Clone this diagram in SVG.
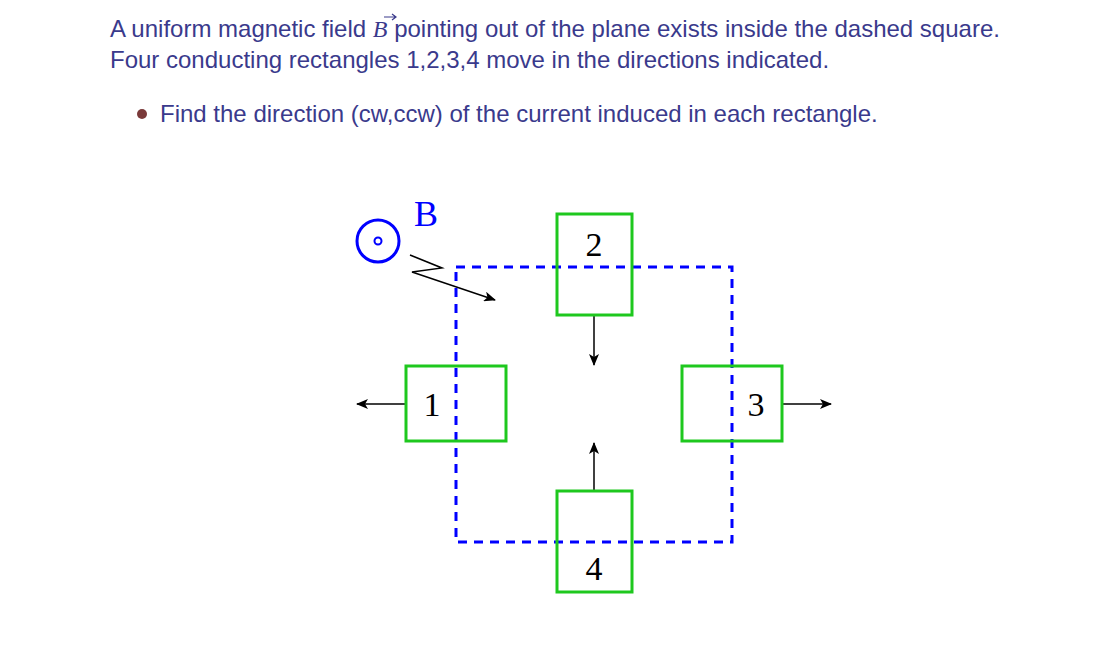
<svg xmlns="http://www.w3.org/2000/svg" width="1113" height="647" viewBox="0 0 1113 647">
<defs><marker id="ah" viewBox="0 0 12 10" refX="11" refY="5" markerWidth="12" markerHeight="10" markerUnits="userSpaceOnUse" orient="auto"><path d="M0,0 L12,5 L0,10 L3,5 Z" fill="#000"/></marker></defs>
<style>.t{font-family:"Liberation Sans",Arial,sans-serif;font-size:24px;fill:#3a3a8c}.n{font-family:"Liberation Serif","Times New Roman",serif;font-size:34px;fill:#000;text-anchor:middle}.box{fill:none;stroke:#1ec81e;stroke-width:3}.ar{stroke:#000;stroke-width:1.5;fill:none;marker-end:url(#ah)}</style>
<rect width="1113" height="647" fill="#fff"/>
<text class="t" x="110" y="37">A uniform magnetic field <tspan font-family="Liberation Serif,serif" font-style="italic">B</tspan> pointing out of the plane exists inside the dashed square.</text>
<path d="M384,17 L396,17 M392,14 L396,17 L392,20" stroke="#3a3a8c" stroke-width="1.2" fill="none"/>
<text class="t" x="110" y="68">Four conducting rectangles 1,2,3,4 move in the directions indicated.</text>
<circle cx="142" cy="114" r="5" fill="#7a3a3a"/>
<text class="t" x="160" y="122">Find the direction (cw,ccw) of the current induced in each rectangle.</text>
<g id="field"><circle cx="378" cy="241" r="21" fill="none" stroke="#0000ff" stroke-width="3"/><circle cx="378" cy="241" r="3.5" fill="none" stroke="#0000ff" stroke-width="2"/><text x="426" y="226" font-family="Liberation Serif,serif" font-size="36" fill="#0000ff" text-anchor="middle">B</text></g>
<rect id="region" x="456" y="267" width="276" height="275" fill="none" stroke="#0000ff" stroke-width="3" stroke-dasharray="9,7"/>
<g id="connectors">
<path class="ar" d="M410,255 L442,268 L412,272 L495,300"/>
<line class="ar" x1="594" y1="315" x2="594" y2="365"/>
<line class="ar" x1="594" y1="491" x2="594" y2="443"/>
<line class="ar" x1="406" y1="404" x2="357" y2="404"/>
<line class="ar" x1="782" y1="404" x2="831" y2="404"/>
</g>
<g id="r1"><rect class="box" x="406" y="366" width="100" height="75"/><text class="n" x="432" y="416">1</text></g>
<g id="r2"><rect class="box" x="557" y="214" width="75" height="101"/><text class="n" x="594" y="256">2</text></g>
<g id="r3"><rect class="box" x="682" y="366" width="100" height="75"/><text class="n" x="756" y="416">3</text></g>
<g id="r4"><rect class="box" x="557" y="491" width="75" height="101"/><text class="n" x="594" y="580">4</text></g>
</svg>
